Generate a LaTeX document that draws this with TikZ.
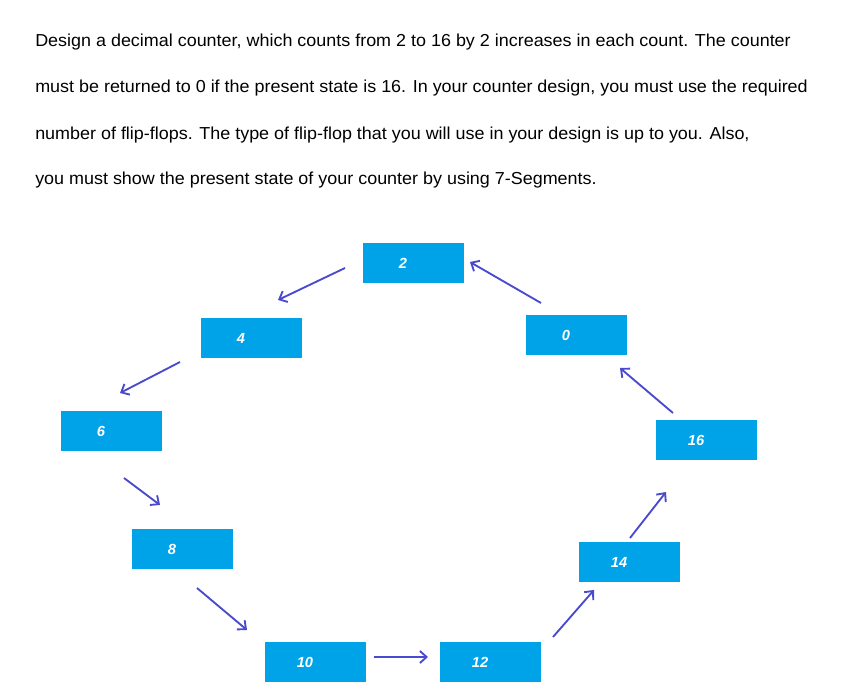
\documentclass[tikz,border=0pt]{standalone}
\usepackage{fontspec}
\setmainfont{Liberation Sans}
\usetikzlibrary{arrows.meta}
\definecolor{boxblue}{HTML}{00A2E8}
\definecolor{arrblue}{HTML}{4A4ACF}
\begin{document}
\begin{tikzpicture}[x=0.75pt,y=-0.75pt,
  st/.style={fill=boxblue,draw=none,minimum width=75.75pt,minimum height=30pt,inner sep=0pt},
  lbl/.style={text=white,font=\bfseries\itshape\fontsize{11}{13}\selectfont},
  ar/.style={draw=arrblue,line width=1.4pt,-{Straight Barb[length=5pt,width=9pt]}},
  tl/.style={anchor=base west,inner sep=0pt,font=\fontsize{13}{15}\selectfont}]
\useasboundingbox (0,0) rectangle (861,692);
\fill[white] (0,0) rectangle (861,692);
\node[tl] (t1) at (35,47) {\scalebox{1.035}[1]{Design a decimal counter, which counts from 2 to 16 by 2 increases in each count. The counter}};
\node[tl] (t2) at (35,93) {\scalebox{1.035}[1]{must be returned to 0 if the present state is 16. In your counter design, you must use the required}};
\node[tl] (t3) at (35,139) {\scalebox{1.035}[1]{number of flip-flops. The type of flip-flop that you will use in your design is up to you. Also,}};
\node[tl] (t4) at (35,185) {\scalebox{1.035}[1]{you must show the present state of your counter by using 7-Segments.}};
\foreach \n/\x/\y in {2/363/243,4/201/318,0/526/315,6/61/411,16/656/420,8/132/529,14/579/542,10/265/642,12/440/642}{
  \node[st,anchor=north west] (b\n) at (\x,\y) {};
  \node[lbl] (l\n) at (\x+40,\y+20) {\n};
}
\coordinate (a1) at (345,268); \coordinate (a2) at (278,300);
\coordinate (a3) at (180,362); \coordinate (a4) at (120,393);
\coordinate (a5) at (124,478); \coordinate (a6) at (160,505);
\coordinate (a7) at (197,588); \coordinate (a8) at (247,630);
\coordinate (a9) at (374,657); \coordinate (a10) at (428,657);
\coordinate (a11) at (553,637); \coordinate (a12) at (594,590);
\coordinate (a13) at (630,538); \coordinate (a14) at (666,492);
\coordinate (a15) at (673,413); \coordinate (a16) at (620,368);
\coordinate (a17) at (541,303); \coordinate (a18) at (470,262);
\draw[ar] (a1)--(a2); \draw[ar] (a3)--(a4); \draw[ar] (a5)--(a6);
\draw[ar] (a7)--(a8); \draw[ar] (a9)--(a10); \draw[ar] (a11)--(a12);
\draw[ar] (a13)--(a14); \draw[ar] (a15)--(a16); \draw[ar] (a17)--(a18);
\end{tikzpicture}
\end{document}
